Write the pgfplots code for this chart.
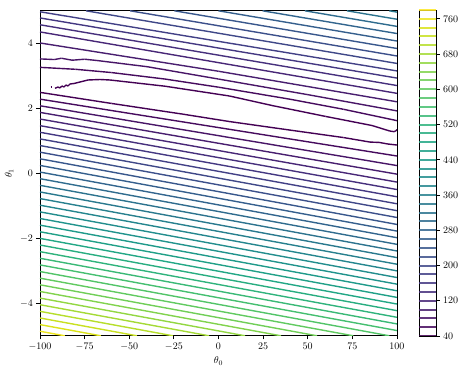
\documentclass[border=0pt]{standalone}
\usepackage{pgfplots}
\pgfplotsset{compat=1.18}
\pgfplotsset{cl/.style={mesh, line width=1.4pt, point meta=#1}}
\begin{document}
\begin{tikzpicture}
\path[use as bounding box] (0,0) rectangle (464pt,372pt);
\begin{axis}[
  at={(40pt,36.2pt)}, anchor=south west,
  scale only axis, width=357pt, height=325pt,
  xmin=-100, xmax=100, ymin=-5, ymax=5,
  xtick={-100,-75,...,100}, ytick={-4,-2,0,2,4},
  tick pos=left, tick align=outside,
  major tick length=3.5pt,
  every tick/.style={black, line width=0.8pt},
  axis line style={line width=0.8pt},
  xlabel={$\theta_0$}, ylabel={$\theta_1$},
  colormap/viridis, point meta min=40, point meta max=780,
]
% level 40 (inner contour)
\addplot[cl=40] coordinates {(-94,2.66) (-93.3,2.66)};
\addplot[cl=40] coordinates {(-91.6,2.615) (-89.9,2.655) (-88.8,2.625) (-87.7,2.686) (-86.6,2.655) (-85.4,2.717) (-84.3,2.686) (-83.2,2.748) (-81.0,2.763) (-77.6,2.809) (-73.1,2.871) (-66.4,2.886) (-60.8,2.871) (-30,2.68) (6,2.38) (30.5,2.08) (60,1.75) (86,1.47) (96,1.30) (98.5,1.28) (99.3,1.31) (100,1.34)};
\addplot[cl=40] coordinates {(-100,2.49) (-60,2.15) (-20,1.82) (6.4,1.59) (40,1.33) (70,1.10) (85,0.96) (90,0.95) (95,0.90) (100,0.87)};
% upper levels
\addplot[cl=60] coordinates {(-100,3.26) (-80,3.20) (-60,3.10) (-30,2.90) (0,2.65) (40,2.28) (70,1.97) (100,1.62)};
\addplot[cl=80] coordinates {(-100,3.52) (-92,3.50) (-88,3.54) (-82,3.48) (-75,3.51) (-68,3.47) (-40,3.28) (0,2.90) (50,2.42) (100,1.92)};
\addplot[cl=100] coordinates {(-100,4.01) (0,3.14) (100,2.20)};
\addplot[cl=120] coordinates {(-100,4.35) (100,2.46)};
\addplot[cl=140] coordinates {(-100,4.57) (100,2.70)};
\addplot[cl=160] coordinates {(-100,4.78) (100,2.93)};
\addplot[cl=180] coordinates {(-100,4.97) (100,3.15)};
\addplot[cl=200] coordinates {(-74.2,5) (100,3.38)};
\addplot[cl=220] coordinates {(-49.5,5) (100,3.61)};
\addplot[cl=240] coordinates {(-24.7,5) (100,3.84)};
\addplot[cl=260] coordinates {(0,5) (100,4.07)};
\addplot[cl=280] coordinates {(24.7,5) (100,4.30)};
\addplot[cl=300] coordinates {(48.4,5) (100,4.52)};
\addplot[cl=320] coordinates {(72,5) (100,4.74)};
\addplot[cl=340] coordinates {(95.7,5) (100,4.96)};
% lower levels
\addplot[cl=60] coordinates {(-100,2.282) (100,0.532)};
\addplot[cl=80] coordinates {(-100,2.078) (100,0.238)};
\addplot[cl=100] coordinates {(-100,1.874) (100,-0.026)};
\addplot[cl=120] coordinates {(-100,1.670) (100,-0.27)};
\addplot[cl=140] coordinates {(-100,1.466) (100,-0.50)};
\addplot[cl=160] coordinates {(-100,1.262) (100,-0.722)};
\addplot[cl=180] coordinates {(-100,1.058) (100,-0.938)};
\addplot[cl=200] coordinates {(-100,0.854) (100,-1.15)};
\addplot[cl=220] coordinates {(-100,0.650) (100,-1.36)};
\addplot[cl=240] coordinates {(-100,0.446) (100,-1.574)};
\addplot[cl=260] coordinates {(-100,0.242) (100,-1.778)};
\addplot[cl=280] coordinates {(-100,0.038) (100,-1.982)};
\addplot[cl=300] coordinates {(-100,-0.166) (100,-2.186)};
\addplot[cl=320] coordinates {(-100,-0.370) (100,-2.390)};
\addplot[cl=340] coordinates {(-100,-0.574) (100,-2.594)};
\addplot[cl=360] coordinates {(-100,-0.778) (100,-2.798)};
\addplot[cl=380] coordinates {(-100,-0.982) (100,-3.002)};
\addplot[cl=400] coordinates {(-100,-1.187) (100,-3.207)};
\addplot[cl=420] coordinates {(-100,-1.391) (100,-3.411)};
\addplot[cl=440] coordinates {(-100,-1.595) (100,-3.615)};
\addplot[cl=460] coordinates {(-100,-1.799) (100,-3.819)};
\addplot[cl=480] coordinates {(-100,-2.003) (100,-4.023)};
\addplot[cl=500] coordinates {(-100,-2.207) (100,-4.227)};
\addplot[cl=520] coordinates {(-100,-2.411) (100,-4.431)};
\addplot[cl=540] coordinates {(-100,-2.615) (100,-4.635)};
\addplot[cl=560] coordinates {(-100,-2.819) (100,-4.839)};
\addplot[cl=580] coordinates {(-100,-3.023) (95.7,-5)};
\addplot[cl=600] coordinates {(-100,-3.227) (75.5,-5)};
\addplot[cl=620] coordinates {(-100,-3.431) (55.2,-5)};
\addplot[cl=640] coordinates {(-100,-3.636) (35.0,-5)};
\addplot[cl=660] coordinates {(-100,-3.840) (14.9,-5)};
\addplot[cl=680] coordinates {(-100,-4.044) (-5.3,-5)};
\addplot[cl=700] coordinates {(-100,-4.248) (-25.5,-5)};
\addplot[cl=720] coordinates {(-100,-4.452) (-45.7,-5)};
\addplot[cl=740] coordinates {(-100,-4.656) (-65.9,-5)};
\addplot[cl=760] coordinates {(-100,-4.860) (-86.1,-5)};
\end{axis}
\begin{axis}[
  at={(419pt,36pt)}, anchor=south west,
  scale only axis, width=17pt, height=326pt,
  xmin=0, xmax=1, ymin=40, ymax=780,
  xtick=\empty, ytick={40,120,...,760},
  ytick pos=right, yticklabel pos=right, tick align=outside,
  major tick length=3.5pt,
  every tick/.style={black, line width=0.8pt},
  axis line style={line width=0.8pt},
  colormap/viridis, point meta min=40, point meta max=780,
]
\pgfplotsinvokeforeach{40,60,...,780}{
  \addplot[mesh, line width=2pt, point meta=#1, opacity=0.85] coordinates {(0,#1) (1,#1)};
}
\end{axis}
\end{tikzpicture}
\end{document}
